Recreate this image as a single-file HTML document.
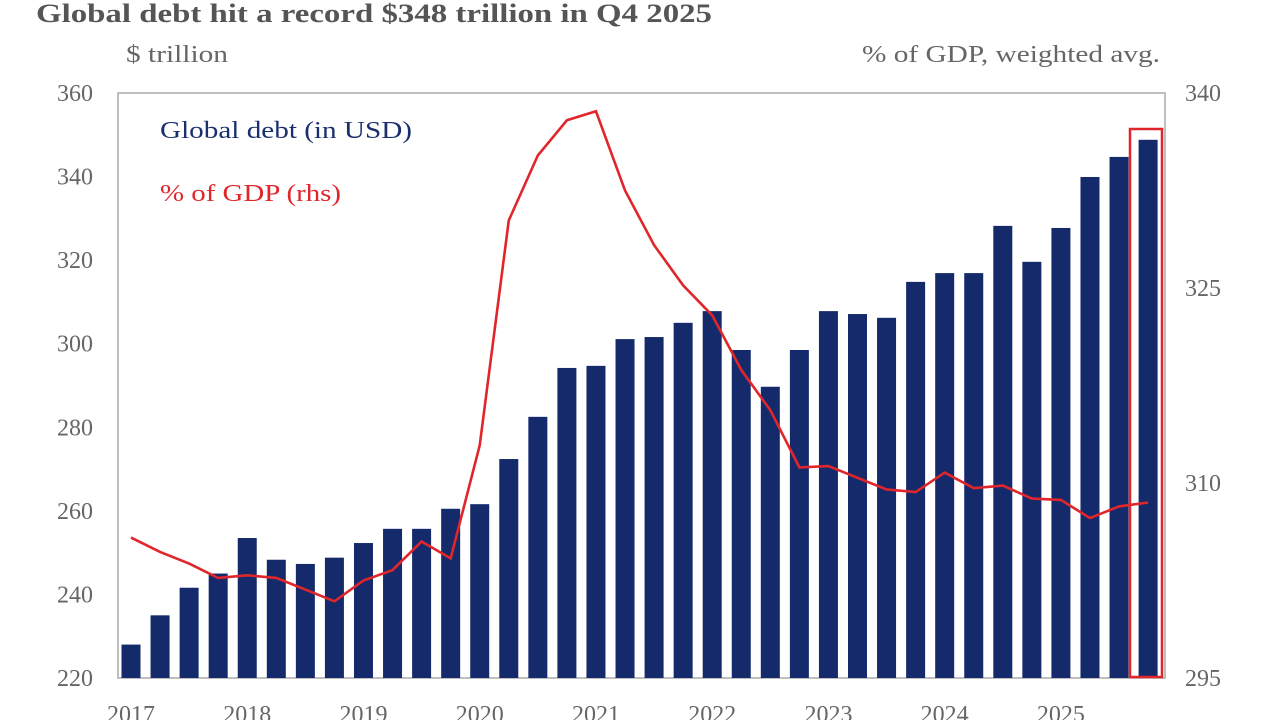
<!DOCTYPE html>
<html><head><meta charset="utf-8"><style>
body{margin:0;width:1280px;height:720px;overflow:hidden;background:#fff;font-family:"Liberation Serif",serif}
svg text{font-family:"Liberation Serif",serif}
</style></head><body>
<svg id="chart" width="1280" height="720">
<text x="36" y="22" font-size="26" font-weight="bold" fill="#555" textLength="676" lengthAdjust="spacingAndGlyphs">Global debt hit a record $348  trillion in Q4 2025</text>
<text x="126" y="62" font-size="24" fill="#666" textLength="102" lengthAdjust="spacingAndGlyphs">$ trillion</text>
<text x="862" y="62" font-size="24" fill="#666" textLength="298" lengthAdjust="spacingAndGlyphs">% of GDP, weighted avg.</text>
<rect x="118" y="93" width="1047" height="585" fill="none" stroke="#aaa" stroke-width="1.5"/>
<g id="bars"></g><g id="ticks"></g>
<path id="line" fill="none" stroke="#e0262b" stroke-width="2.6"/>
<rect x="1130" y="129" width="32" height="548" fill="none" stroke="#e0262b" stroke-width="2.5"/>
<text x="160" y="138" font-size="24" fill="#1a2f6e" textLength="252" lengthAdjust="spacingAndGlyphs">Global debt (in USD)</text>
<text x="160" y="201" font-size="24" fill="#e0262b" textLength="181" lengthAdjust="spacingAndGlyphs">% of GDP (rhs)</text>
</svg>
<script>
const years=["2017","2018","2019","2020","2021","2022","2023","2024","2025"];
const leftTicks=[220,240,260,280,300,320,340,360];
const rightTicks=[295,310,325,340];
const debt=[228,235,241.6,245,253.5,248.3,247.3,248.8,252.3,255.7,255.7,260.5,261.6,272.4,282.5,294.2,294.7,301.1,301.6,305,307.8,298.5,289.7,298.5,307.8,307.1,306.2,314.8,316.9,316.9,328.2,319.6,327.7,339.9,344.7,348.8];
const gdp=[305.8,304.7,303.8,302.7,302.9,302.7,301.8,300.9,302.5,303.3,305.5,304.2,312.9,330.2,335.2,337.9,338.6,332.5,328.3,325.2,322.9,318.7,315.6,311.2,311.3,310.4,309.5,309.3,310.8,309.6,309.8,308.8,308.7,307.3,308.2,308.5];
const plotTop=93,plotBot=678;
const yL=v=>plotBot-(v-220)/(360-220)*(plotBot-plotTop);
const yR=v=>plotBot-(v-295)/(340-295)*(plotBot-plotTop);
const xQ=i=>131+i*29.06;
const NS="http://www.w3.org/2000/svg";
const bars=document.getElementById('bars'),ticks=document.getElementById('ticks');
debt.forEach((v,i)=>{const r=document.createElementNS(NS,'rect');
r.setAttribute('x',xQ(i)-9.5);r.setAttribute('y',yL(v));r.setAttribute('width',19);r.setAttribute('height',plotBot-yL(v));r.setAttribute('fill','#142a6b');


bars.appendChild(r);});
function txt(x,y,s,anchor,name){const t=document.createElementNS(NS,'text');t.setAttribute('x',x);t.setAttribute('y',y);t.setAttribute('font-size','24');t.setAttribute('fill','#666');t.setAttribute('text-anchor',anchor);t.textContent=s;


ticks.appendChild(t);}
leftTicks.forEach(v=>txt(93,yL(v)+8,v,'end','left-tick-label'));
rightTicks.forEach(v=>txt(1185,yR(v)+8,v,'start','right-tick-label'));
years.forEach((y,i)=>txt(xQ(i*4),722,y,'middle','x-tick-label'));
document.getElementById('line').setAttribute('d',gdp.map((v,i)=>(i?'L':'M')+xQ(i)+','+yR(v)).join(''));
</script>
</body></html>
